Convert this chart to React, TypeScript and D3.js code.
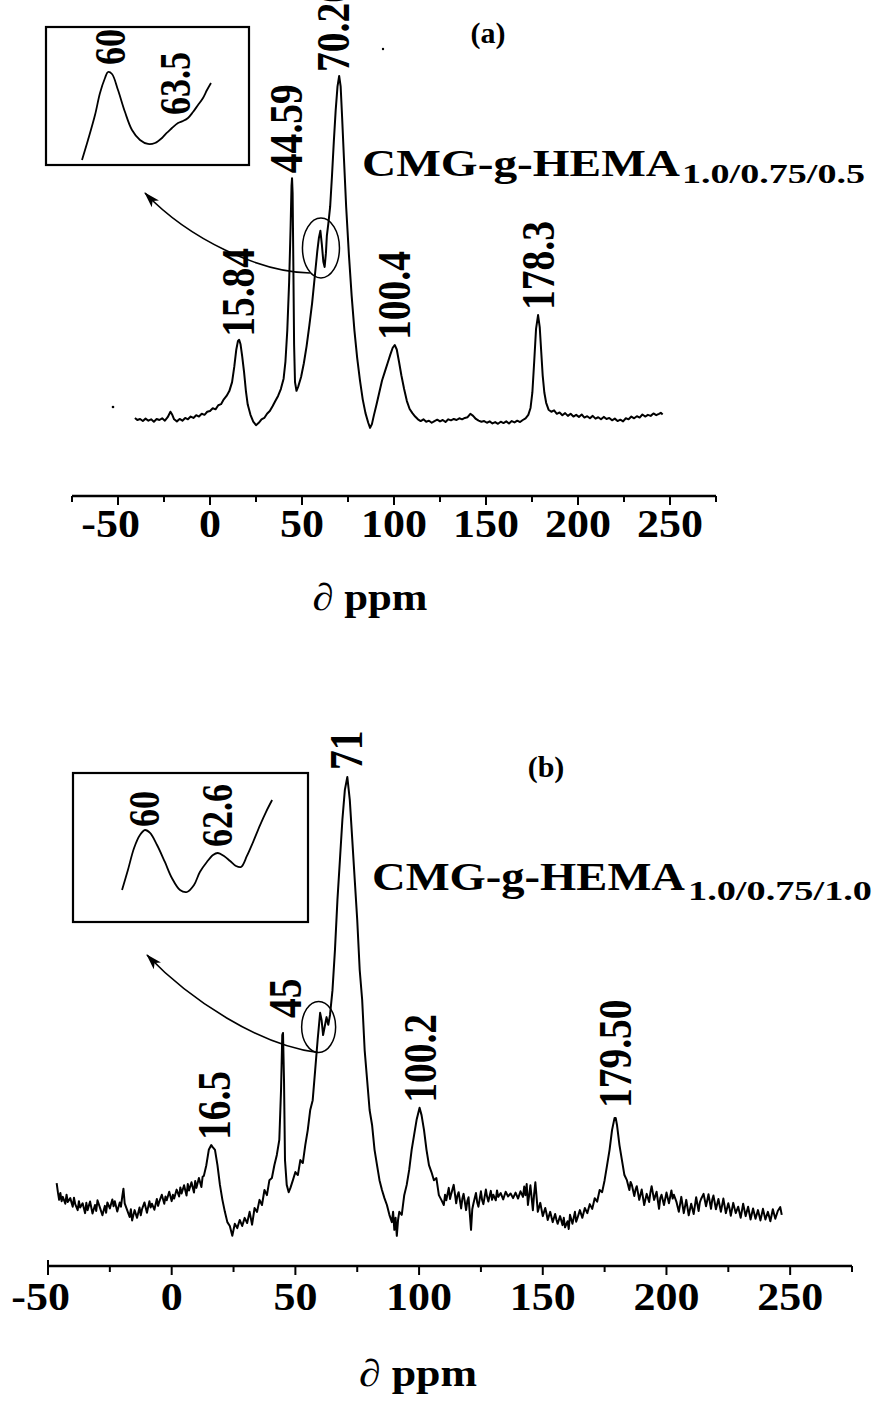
import React from 'react';
import * as d3 from 'd3';

// ---------- DATA ----------
const ppmTicks = [-50, 0, 50, 100, 150, 200, 250];
const minorTicksA = [-75, -25, 25, 75, 125, 175, 225, 275];
const minorTicksB = [-25, 25, 75, 125, 175, 225, 275];

// (a) CMG-g-HEMA 1.0/0.75/0.5 : [ppm, relative intensity]
const spectrumA: [number, number][] = [
  [-40.8,0.6],[-39.5,0.0],[-38,0.3],[-36.5,-0.3],[-35,0.4],[-33.5,-0.2],[-32,0.2],[-30.5,-0.5],[-29,0.3],[-27.5,0.0],
  [-26,0.5],[-24.5,-0.2],[-23,0.8],[-21.5,2.4],[-20.5,1.5],[-19.5,0.2],[-18,-0.4],[-16.5,0.3],[-15,-0.2],[-13.5,0.6],
  [-12,0.2],[-10.5,1.0],[-9,0.6],[-7.5,1.4],[-6,1.0],[-4.5,1.8],[-3,1.5],[-1.5,2.4],[0,2.6],[1.5,3.4],[3,3.1],[4.5,4.3],
  [6,4.6],[7.5,6.0],[9,7.0],[10.5,8.4],[12,11.0],[13.2,15.5],[14.3,20.5],[15.2,23.0],[15.84,23.3],[16.6,22.0],[17.5,18.5],
  [18.5,14.0],[19.5,8.5],[20.5,4.5],[22,1.5],[23.5,-0.5],[25,-1.5],[26.5,-0.8],[28,0.2],[29.5,0.6],[31,1.8],[32.5,2.6],
  [34,4.0],[35.5,5.5],[37,7.0],[38.5,9.0],[40,12.0],[41,17.0],[42,26.0],[43,40.0],[43.8,56.0],[44.3,68.0],[44.59,70.3],
  [44.9,66.0],[45.3,45.0],[45.7,22.0],[46.2,11.0],[47,8.5],[48,9.8],[49.5,12.5],[51,16.5],[52.5,21.5],[54,27.5],[55.5,34.0],
  [57,42.0],[58.3,49.0],[59.2,53.0],[60,55.0],[60.8,51.0],[61.6,46.0],[62.3,44.5],[63,48.5],[63.5,53.5],[64.3,57.0],
  [65.3,62.0],[66.3,71.0],[67.3,81.0],[68.3,90.0],[69.3,97.0],[70.2,100],[71,97.0],[71.8,88.0],[72.8,76.0],[74,62.0],
  [75.5,48.0],[77,36.0],[78.5,26.0],[80,18.0],[81.5,11.5],[83,6.0],[84.5,2.0],[86,-0.8],[87,-2.3],[88,-1.2],[89,1.2],
  [90.5,4.5],[92,8.0],[93.5,11.5],[95,14.0],[96.5,16.5],[98,19.0],[99.3,21.0],[100.4,21.8],[101.5,20.5],[102.7,17.0],
  [104,13.0],[105.5,9.0],[107,5.5],[108.5,3.2],[110,2.0],[111.5,1.0],[113,0.2],[114.5,-0.3],[116,0.2],[117.5,-0.5],
  [119,-0.2],[120.5,-0.8],[122,-0.3],[123.5,0.1],[125,-0.4],[126.5,0.0],[128,-0.6],[129.5,0.2],[131,-0.1],[132.5,0.3],
  [134,0.0],[135.5,0.5],[137,0.2],[138.5,0.6],[140,0.8],[141.5,1.8],[143,1.2],[144.5,0.3],[146,-0.2],[147.5,-0.5],
  [149,-0.3],[150.5,-0.8],[152,-0.4],[153.5,-1.0],[155,-0.6],[156.5,-1.1],[158,-0.5],[159.5,-0.9],[161,-0.4],[162.5,-1.0],
  [164,-0.3],[165.5,-0.7],[167,-0.2],[168.5,-0.6],[170,0.0],[171.5,0.5],[173,1.5],[174.2,3.5],[175.2,8.0],[176.2,17.0],
  [177.2,26.5],[178.3,30.5],[179.2,27.0],[180,20.0],[180.8,13.0],[181.7,8.0],[182.7,5.0],[184,3.0],[185.5,2.4],[187,2.8],
  [188.5,1.8],[190,2.2],[191.5,1.4],[193,2.0],[194.5,1.2],[196,1.8],[197.5,1.0],[199,1.5],[200.5,0.9],[202,1.6],[203.5,0.7],
  [205,1.1],[206.5,0.5],[208,1.2],[209.5,0.4],[211,0.8],[212.5,0.2],[214,0.9],[215.5,0.3],[217,0.6],[218.5,-0.1],[220,0.4],
  [221.5,-0.3],[223,0.1],[224.5,-0.4],[226,0.5],[227.5,0.2],[229,1.0],[230.5,0.5],[232,1.1],[233.5,0.7],[235,1.6],[236.5,1.0],
  [238,1.5],[239.5,1.2],[241,1.9],[242.5,1.4],[244,1.8],[245,2.1],[246,1.6]
];

// (b) CMG-g-HEMA 1.0/0.75/1.0
const spectrumB: [number, number][] = [
  [-46.5,5.1],[-46,3.0],[-45.5,1.2],[-45,2.8],[-44.5,0.9],[-44,1.9],[-43,0.3],[-42.5,2.4],[-42,0.7],[-41,1.6],[-40,-0.4],
  [-39.5,1.7],[-39,0.2],[-38,-1.2],[-37.5,0.9],[-37,-0.6],[-36,0.4],[-35,-1.9],[-34.5,0.5],[-34,-1.2],[-33,0.8],[-32,-2.0],
  [-31,0],[-30.5,-1.4],[-30,1.1],[-29,-0.6],[-28,-2.4],[-27,-0.2],[-26.5,-1.8],[-26,0.6],[-25,-0.8],[-24,1.3],[-23.5,-0.3],
  [-23,0.9],[-22,-1.5],[-21,0.6],[-20.5,-0.4],[-20,1.9],[-19.5,3.8],[-19,0.4],[-18,-1.2],[-17,-2.8],[-16.5,-1.0],[-16,-3.6],
  [-15,-1.2],[-14,-3.0],[-13,-0.6],[-12.5,-2.4],[-12,-1.0],[-11,0.6],[-10,-1.8],[-9,0.9],[-8.5,-0.6],[-8,0.3],[-7,-1.1],
  [-6,1.4],[-5.5,-0.2],[-5,0.8],[-4,2.4],[-3,0.3],[-2.5,2.0],[-2,1.1],[-1,3.1],[0,0.9],[0.5,2.4],[1,1.5],[2,3.6],[3,2.0],
  [3.5,4.1],[4,2.7],[5,4.6],[6,2.2],[6.5,4.9],[7,3.4],[8,5.3],[9,2.9],[9.5,5.6],[10,4.0],[11,6.3],[12,4.2],[12.5,6.6],
  [13,6.8],[14,9.3],[15,12.9],[16,14],[16.5,13.6],[17.5,12.9],[18.5,9.3],[19.5,4.7],[20.5,1.2],
  [21.5,-1.6],[22.5,-4],[23.5,-4.9],[24.5,-7.2],[25.5,-4.4],[26.5,-5.4],[27.5,-3.5],[28.5,-4.9],[29.5,-3],[30.5,-4.2],
  [31.5,-1.6],[32.5,-4.6],[33.5,-0.7],[34.5,-1.6],[35.5,1.2],[36.5,0],[37.5,3.5],[38.5,2.3],[39.5,5.8],[40.5,6.3],
  [41.5,9.3],[42.5,11.7],[43.5,15.2],[44.2,26.9],[44.7,39.7],[45,40.2],[45.4,29.2],[45.8,10.5],[46.5,4.7],[47.3,3],
  [48,4],[49,5.8],[50,7.7],[51,7],[52,10.5],[53,9.8],[54,14],[55,17.5],[56,22.2],[57,24.5],[58,31.5],[59,38.6],[60,44.9],
  [60.6,43.2],[61.2,39.7],[62,42.1],[62.6,43.9],[63.3,42.1],[64,44.4],[65,50.2],[66,59.6],[67,71.3],[68,80.6],[69,90],
  [70,97],[71,100],[72,94.6],[73,85.3],[74,75.9],[75,66.6],[76,54.9],[77,47.9],[78,36.2],[79,29.2],[80,22.2],[81,18.7],
  [82,12.9],[83,9.3],[84,5.8],[85,3.5],[86,1.6],[87,0],[88,-2.3],[89,-4],[89.5,-1.6],[90,-5.8],[90.5,-3],[91,-7.2],
  [91.5,-3.5],[92,-1.6],[93,-2.3],[94,2.3],[95,4.7],[96,8.2],[97,12.9],[98,16.4],[99,19.9],[100.2,22.7],[101,21],
  [102,17.5],[103,12.9],[104,9.3],[105,7.7],[106,5.8],[107,6.3],[108,2.3],[109,1.2],[110,0],[110.5,2.4],[111,1.1],[112,4],
  [112.5,1.4],[113,2.6],[114,4.7],[115,0.4],[115.5,2.2],[116,3],[117,-0.8],[117.5,1.5],[118,2.6],[119,-1.2],[119.5,0.9],
  [120,1.8],[121,-5.8],[121.5,-1.0],[122,0.4],[123,2.8],[123.5,0.6],[124,-0.4],[125,3.2],[125.5,1.1],[126,0.2],[127,3.6],
  [127.5,1.9],[128,0.8],[129,3.3],[129.5,1.2],[130,2.4],[131,1.1],[131.5,3.4],[132,1.9],[133,2.8],[134,1.3],[135,3.1],
  [136,2.0],[137,2.7],[138,1.6],[139,2.9],[140,1.5],[141,3.2],[142,1.9],[142.5,4.3],[143,2.3],[143.5,4.9],[144,0],
  [145,4.6],[146,-1.2],[146.5,2.5],[147,5.3],[148,-1.6],[149,0.5],[150,-2.6],[151,-0.7],[151.5,-2.0],[152,-3.5],[153,-1.6],
  [154,-4],[155,-2.1],[155.5,-3.4],[156,-4.4],[157,-2.6],[158,-4.7],[158.5,-3.0],[159,-5.2],[160,-3.8],[160.5,-5.6],
  [161,-2.3],[162,-4.4],[163,-1.6],[163.5,-3.9],[164,-3.1],[165,-1.2],[166,-3.0],[167,-0.7],[168,-1.9],[169,0.2],[170,-0.9],
  [171,1.6],[172,0.8],[173,3.5],[174,3],[175,5.8],[176,9.3],[177,12.9],[178,17.5],[179,20.3],[179.5,20.3],[180,18.7],
  [181,14],[182,10.5],[183,7],[184,5.8],[185,3.5],[185.5,5.4],[186,4.7],[187,2.1],[187.5,3.6],[188,4.4],[189,1.2],[190,3.6],
  [190.5,1.8],[191,0],[192,2.6],[193,0.7],[193.5,2.9],[194,4.4],[195,1.2],[196,3.1],[197,-0.9],[197.5,1.6],[198,2.4],
  [199,0],[200,2.9],[201,0.4],[202,3.4],[202.5,1.5],[203,2.4],[204,0.8],[205,-1.6],[206,1.9],[207,-1.9],[208,1.2],
  [208.5,-0.6],[209,-2.4],[210,0.3],[211,-2.1],[212,1.8],[213,-1.4],[213.5,0.6],[214,1.4],[215,2.6],[216,-0.3],[217,2.5],
  [218,-0.9],[218.5,1.2],[219,2.2],[220,-1.0],[221,1.4],[222,-1.6],[223,1.5],[224,-1.9],[225,0.4],[225.5,-0.8],[226,-2.5],
  [227,0.5],[228,-1.9],[229,-0.4],[230,-3.0],[231,0.3],[232,-2.6],[233,-0.4],[234,-3.4],[235,-0.8],[236,-3.2],[237,-1.2],
  [238,-3.6],[239,-0.9],[240,-3.4],[241,-1.6],[242,-3.8],[243,-1.0],[244,-3.2],[245,-1.4],[246,-0.5],[246.6,-2.3]
];

// Insets (zoomed 57-66 ppm region)
const insetA: [number, number][] = [
  [58.7,0],[59.0,22.7],[59.35,51.1],[59.6,76.1],[59.85,93.2],[60.0,100],[60.2,97.7],[60.5,79.5],[60.85,54.5],[61.2,34.1],
  [61.6,22.7],[62.0,18.2],[62.35,19.3],[62.7,25],[62.9,30],[63.05,33],[63.2,36.4],[63.5,42],[63.75,44.3],[64.0,47.7],
  [64.25,54.5],[64.5,62.5],[64.75,70.5],[64.95,79.5],[65.15,87.5]
];
const insetB: [number, number][] = [
  [59.18,3.2],[59.39,35.5],[59.61,71],[59.82,91.9],[60.0,100],[60.18,95.2],[60.43,75.8],[60.71,48.4],[60.96,22.6],
  [61.25,3.2],[61.5,0],[61.75,11.3],[61.96,32.3],[62.21,48.4],[62.43,59.7],[62.6,62.9],[62.82,58.1],[63.04,50],
  [63.25,41.9],[63.43,40.3],[63.64,58.1],[63.86,80.6],[64.11,108],[64.32,129],[64.54,148.4]
];

const peakLabelsA = ['15.84', '44.59', '70.20', '100.4', '178.3'];
const peakPpmA = [15.84, 44.59, 70.2, 100.4, 178.3];
const peakLabelsB = ['16.5', '45', '71', '100.2', '179.50'];
const peakPpmB = [16.5, 45, 71, 100.2, 179.5];
const insetLabelsA = ['60', '63.5'];
const insetPpmA = [60, 63.5];
const insetLabelsB = ['60', '62.6'];
const insetPpmB = [60, 62.6];

// ---------- LAYOUT ----------
const W = 895, H = 1402;
const FONT = '"Times New Roman", "Liberation Serif", serif';

const xA = d3.scaleLinear().domain([-75, 275]).range([72, 716]);
const yA = d3.scaleLinear().domain([0, 100]).range([420, 76]);
const xB = d3.scaleLinear().domain([-50, 275]).range([48, 852]);
const yB = d3.scaleLinear().domain([0, 100]).range([1205, 777]);
const axisYA = 496, axisYB = 1266;

const boxA = { x0: 46, y0: 27, x1: 249, y1: 165 };
const boxB = { x0: 73, y0: 773, x1: 308, y1: 922 };
const ixA = d3.scaleLinear().domain([58.7, 65.15]).range([82, 211]);
const iyA = d3.scaleLinear().domain([0, 100]).range([160, 72]);
const ixB = d3.scaleLinear().domain([59, 64.5]).range([117, 271]);
const iyB = d3.scaleLinear().domain([0, 100]).range([892, 830]);

const labelDxA = [-1, -6, -6, 0, 0];
const labelGapA = [3, 5, 4, 5, 5];
const labelDxB = [2, 2, -1, 1, 0];
const labelGapB = [5, 15, 7, 5, 10];
const insetDxA = [2, -3];
const insetGapA = [7, 8];
const insetDxB = [-1, -1];
const insetGapB = [3, 6];

function peakValue(series: [number, number][], ppm: number) {
  const near = series.filter(d => Math.abs(d[0] - ppm) <= 0.8);
  return d3.max(near, d => d[1]) ?? 0;
}
function valueAt(series: [number, number][], ppm: number) {
  let best = series[0];
  for (const d of series) if (Math.abs(d[0] - ppm) < Math.abs(best[0] - ppm)) best = d;
  return best[1];
}

const RotLabel = ({ cx, by, text, fs = 46, sx = 0.86 }: any) => (
  <text
    transform={`translate(${cx},${by}) rotate(-90) scale(${sx},1)`}
    x={0}
    y={0.34 * fs}
    fontSize={fs}
    fontWeight="bold"
    fontFamily={FONT}
    textAnchor="start"
    fill="#000"
  >
    {text}
  </text>
);

const Axis = ({ x, y, minor }: any) => {
  const [r0, r1] = x.range();
  return (
    <g stroke="#000" fill="none">
      <line x1={r0} x2={r1} y1={y} y2={y} strokeWidth={2.6} />
      {ppmTicks.map(t => (
        <line key={'M' + t} x1={x(t)} x2={x(t)} y1={y} y2={y + 9} strokeWidth={2} />
      ))}
      {minor.map((t: number) => (
        <line key={'m' + t} x1={x(t)} x2={x(t)} y1={y} y2={y + 6} strokeWidth={2} />
      ))}
    </g>
  );
};

const TickLabels = ({ x, y, fs, sx }: any) => (
  <g>
    {ppmTicks.map(t => {
      const digits = String(Math.abs(t)).length;
      const neg = t < 0;
      return (
        <text
          key={t}
          transform={`translate(${x(t)},${y}) scale(${sx},1)`}
          x={neg ? (digits * 0.5 * fs) / 2 : 0}
          textAnchor={neg ? 'end' : 'middle'}
          fontSize={fs}
          fontWeight="bold"
          fontFamily={FONT}
          fill="#000"
        >
          {neg ? '-' + Math.abs(t) : t}
        </text>
      );
    })}
  </g>
);

const AxisTitle = ({ cx, by, fs, len }: any) => (
  <text x={cx - len / 2} y={by} fontSize={fs} fontWeight="bold" fontFamily={FONT} textLength={len} lengthAdjust="spacingAndGlyphs" fill="#000">
    <tspan fontStyle="italic">∂</tspan> ppm
  </text>
);

export default function App() {
  const lineA = d3.line<[number, number]>().x(d => xA(d[0])).y(d => yA(d[1]));
  const lineB = d3.line<[number, number]>().x(d => xB(d[0])).y(d => yB(d[1]));
  const lineIA = d3.line<[number, number]>().x(d => ixA(d[0])).y(d => iyA(d[1])).curve(d3.curveCatmullRom);
  const lineIB = d3.line<[number, number]>().x(d => ixB(d[0])).y(d => iyB(d[1])).curve(d3.curveCatmullRom);

  // ellipse annotations centred on the 60 ppm feature
  const ellA = { cx: xA(60.3), cy: yA(50), rx: 18.5, ry: 30 };
  const ellB = { cx: xB(59.4), cy: yB(41.6), rx: 17, ry: 25.5 };

  const arrowA = (() => {
    const s = [ellA.cx - 11, ellA.cy + 25];
    const t = [boxA.x0 + 99, boxA.y1 + 28];
    return `M${s[0]},${s[1]} C${s[0] - 50},${s[1] - 1} ${t[0] + 45},${t[1] + 47} ${t[0]},${t[1]}`;
  })();
  const arrowB = (() => {
    const s = [ellB.cx - 1, ellB.cy + ellB.ry];
    const t = [boxB.x0 + 74, boxB.y1 + 33];
    return `M${s[0]},${s[1]} C${s[0] - 58},${s[1] - 7} ${t[0] + 43},${t[1] + 45} ${t[0]},${t[1]}`;
  })();

  return (
    <svg width={W} height={H} viewBox={`0 0 ${W} ${H}`} style={{ position: 'absolute', left: 0, top: 0, background: '#fff' }}>
      <defs>
        <marker id="arr" viewBox="0 0 16 10" refX="15" refY="5" markerWidth="16" markerHeight="10" markerUnits="userSpaceOnUse" orient="auto">
          <path d="M0,0 L16,5 L0,10 L4,5 Z" fill="#000" />
        </marker>
      </defs>
      <rect x={0} y={0} width={W} height={H} fill="#fff" />

      {/* ---------------- Panel (a) ---------------- */}
      <path d={lineA(spectrumA) || ''} fill="none" stroke="#000" strokeWidth={2} strokeLinejoin="round" />
      {peakLabelsA.map((t, i) => (
        <RotLabel key={t} text={t} cx={xA(peakPpmA[i]) + labelDxA[i]} by={yA(peakValue(spectrumA, peakPpmA[i])) - labelGapA[i]} />
      ))}
      <rect x={boxA.x0} y={boxA.y0} width={boxA.x1 - boxA.x0} height={boxA.y1 - boxA.y0} fill="none" stroke="#000" strokeWidth={2.2} />
      <path d={lineIA(insetA) || ''} fill="none" stroke="#000" strokeWidth={1.8} />
      {insetLabelsA.map((t, i) => (
        <RotLabel key={t} text={t} fs={44} sx={0.82} cx={ixA(insetPpmA[i]) + insetDxA[i]} by={iyA(valueAt(insetA, insetPpmA[i])) - insetGapA[i]} />
      ))}
      <ellipse cx={ellA.cx} cy={ellA.cy} rx={ellA.rx} ry={ellA.ry} fill="none" stroke="#000" strokeWidth={1.5} />
      <path d={arrowA} fill="none" stroke="#000" strokeWidth={1.6} markerEnd="url(#arr)" />
      <text x={488} y={43} fontSize={30} fontWeight="bold" fontFamily={FONT} textAnchor="middle">(a)</text>
      <text x={362} y={176} fontSize={38} fontWeight="bold" fontFamily={FONT} textLength={318} lengthAdjust="spacingAndGlyphs">CMG-g-HEMA</text>
      <text x={682} y={183} fontSize={27} fontWeight="bold" fontFamily={FONT} textLength={183} lengthAdjust="spacingAndGlyphs">1.0/0.75/0.5</text>
      <circle cx={113} cy={407} r={1.3} fill="#000" />
      <circle cx={383} cy={49} r={1.2} fill="#000" />

      <Axis x={xA} y={axisYA} minor={minorTicksA} />
      <TickLabels x={xA} y={537} fs={40} sx={1.1} />
      <AxisTitle cx={370} by={610} fs={38} len={115} />

      {/* ---------------- Panel (b) ---------------- */}
      <path d={lineB(spectrumB) || ''} fill="none" stroke="#000" strokeWidth={2} strokeLinejoin="round" />
      {peakLabelsB.map((t, i) => (
        <RotLabel key={t} text={t} cx={xB(peakPpmB[i]) + labelDxB[i]} by={yB(peakValue(spectrumB, peakPpmB[i])) - labelGapB[i]} />
      ))}
      <rect x={boxB.x0} y={boxB.y0} width={boxB.x1 - boxB.x0} height={boxB.y1 - boxB.y0} fill="none" stroke="#000" strokeWidth={2.2} />
      <path d={lineIB(insetB) || ''} fill="none" stroke="#000" strokeWidth={1.8} />
      {insetLabelsB.map((t, i) => (
        <RotLabel key={t} text={t} fs={44} sx={0.82} cx={ixB(insetPpmB[i]) + insetDxB[i]} by={iyB(valueAt(insetB, insetPpmB[i])) - insetGapB[i]} />
      ))}
      <ellipse cx={ellB.cx} cy={ellB.cy} rx={ellB.rx} ry={ellB.ry} fill="none" stroke="#000" strokeWidth={1.5} />
      <path d={arrowB} fill="none" stroke="#000" strokeWidth={1.6} markerEnd="url(#arr)" />
      <text x={546} y={777} fontSize={30} fontWeight="bold" fontFamily={FONT} textAnchor="middle">(b)</text>
      <text x={372} y={890} fontSize={40} fontWeight="bold" fontFamily={FONT} textLength={313} lengthAdjust="spacingAndGlyphs">CMG-g-HEMA</text>
      <text x={688} y={900} fontSize={27} fontWeight="bold" fontFamily={FONT} textLength={184} lengthAdjust="spacingAndGlyphs">1.0/0.75/1.0</text>

      <Axis x={xB} y={axisYB} minor={minorTicksB} />
      <line x1={xB(-50)} x2={xB(-50)} y1={axisYB - 6} y2={axisYB} stroke="#000" strokeWidth={2} />
      <TickLabels x={xB} y={1310} fs={40} sx={1.1} />
      <AxisTitle cx={418} by={1386} fs={38} len={118} />
    </svg>
  );
}
